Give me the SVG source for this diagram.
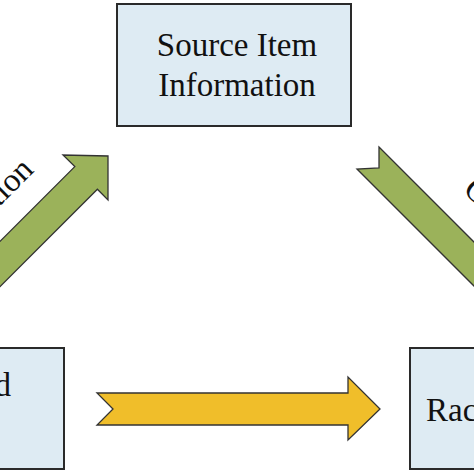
<svg xmlns="http://www.w3.org/2000/svg" width="474" height="474" viewBox="0 0 474 474">
<style>
.box{fill:#deebf3;stroke:#2a2a2a;stroke-width:2}
.lbl{font-family:"Liberation Serif","Times New Roman",serif;font-size:33px;fill:#111}
.green{fill:#9bb25a;stroke:#333;stroke-width:1.3;stroke-linejoin:miter}
.yellow{fill:#f0be2a;stroke:#333;stroke-width:1.3;stroke-linejoin:miter}
</style>
<rect width="474" height="474" fill="#ffffff"/>
<g id="connectors">
<polygon class="green" points="-25.2,266.6 74.8,166.6 63,155 108,156 108,200 97.4,189.2 -2.6,289.2"/>
<polygon class="yellow" points="97,393 348,393 348,377 380,409 348,440 348,425 97,425 113,409"/>
<polygon class="green" points="379,147 520,288 498,310 357,169 379,168"/>
</g>
<g id="label-left">
<text class="lbl" x="35" y="171" text-anchor="end" transform="rotate(-45 35 171)">tion</text>
</g>
<g id="label-right">
<text class="lbl" x="462" y="192" transform="rotate(40 462 192)">C</text>
</g>
<g id="node-source">
<rect class="box" x="117" y="4" width="234" height="122"/>
<text class="lbl" x="237" y="56" text-anchor="middle">Source Item</text>
<text class="lbl" x="237" y="96" text-anchor="middle">Information</text>
</g>
<g id="node-left">
<rect class="box" x="-40" y="348" width="104" height="121"/>
<text class="lbl" x="11" y="396" text-anchor="end">d</text>
</g>
<g id="node-right">
<rect class="box" x="410" y="348" width="104" height="121"/>
<text class="lbl" x="426" y="421">Rac</text>
</g>
</svg>
